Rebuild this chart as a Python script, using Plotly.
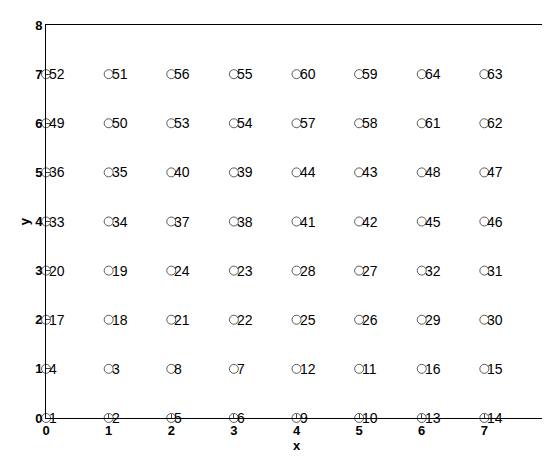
import plotly.graph_objects as go

xs = [0, 1, 2, 3, 4, 5, 6, 7]
ys = [0, 1, 2, 3, 4, 5, 6, 7]
# labels by row, from y=0 upward
labels = [
    [1, 2, 5, 6, 9, 10, 13, 14],
    [4, 3, 8, 7, 12, 11, 16, 15],
    [17, 18, 21, 22, 25, 26, 29, 30],
    [20, 19, 24, 23, 28, 27, 32, 31],
    [33, 34, 37, 38, 41, 42, 45, 46],
    [36, 35, 40, 39, 44, 43, 48, 47],
    [49, 50, 53, 54, 57, 58, 61, 62],
    [52, 51, 56, 55, 60, 59, 64, 63],
]

px, py, pt = [], [], []
for j, y in enumerate(ys):
    for i, x in enumerate(xs):
        px.append(x)
        py.append(y)
        pt.append(str(labels[j][i]))

fig = go.Figure(go.Scatter(
    x=px, y=py, mode="markers",
    marker=dict(symbol="circle-open", size=9, color="#333", line=dict(width=0.8, color="#333")),
    cliponaxis=False,
))
for x, y, t in zip(px, py, pt):
    fig.add_annotation(x=x, y=y, text=t, showarrow=False, xanchor="left", xshift=1,
                       font=dict(family="Arial", size=14, color="black"))

ax = dict(range=[-0.001, 8.001], dtick=1, showgrid=False, zeroline=False, showline=True,
          mirror=True, linecolor="black", linewidth=1, ticks="inside", ticklen=4,
          tickfont=dict(family="Arial", size=13, color="black", weight="bold"))
fig.update_xaxes(**ax, title=dict(text="<b>x</b>", standoff=0, font=dict(family="Arial", size=13, color="black")))
fig.update_yaxes(**ax, title=dict(text="<b>y</b>", standoff=2, font=dict(family="Arial", size=13, color="black")))
fig.update_layout(width=550, height=460, plot_bgcolor="white", paper_bgcolor="white",
                  margin=dict(l=38, r=7, t=17, b=50), showlegend=False)
fig.write_html("out.html")
